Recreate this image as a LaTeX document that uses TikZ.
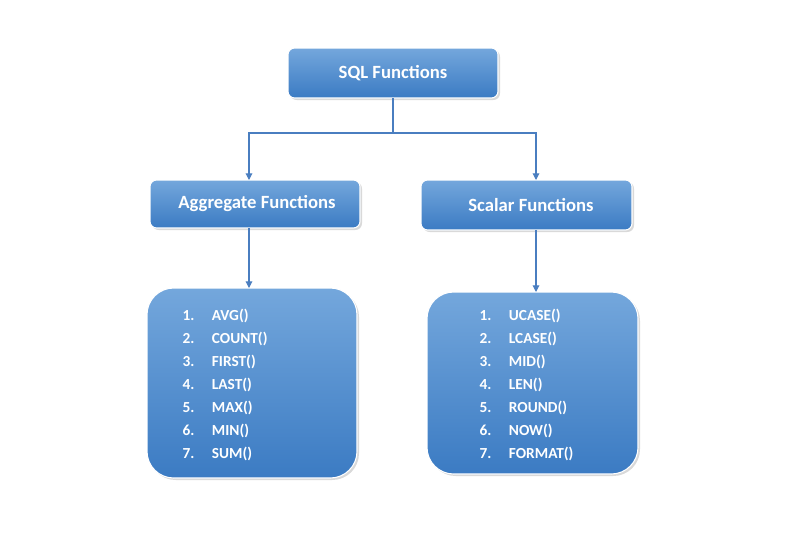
\documentclass[tikz,border=0pt]{standalone}
\usepackage{fontspec}
\setmainfont{Carlito}
\usetikzlibrary{arrows.meta,shadows}
\definecolor{btop}{HTML}{74A7DC}
\definecolor{bbot}{HTML}{3B7BC3}
\definecolor{lne}{HTML}{4A7EC0}
\tikzset{
  x=0.75pt,y=-0.75pt,
  box/.style={rounded corners=5pt,top color=btop,bottom color=bbot,draw=white,line width=0.8pt,
    drop shadow={shadow xshift=1.5pt,shadow yshift=-1.5pt,opacity=0.3}},
  bigbox/.style={box,rounded corners=20pt},
  ttl/.style={text=white,font=\bfseries\fontsize{14}{16}\selectfont},
  lst/.style={text=white,font=\bfseries\fontsize{11.5}{17.3}\selectfont,anchor=west,align=left},
  conn/.style={lne,line width=0.8pt},
  arr/.style={conn,-{Triangle[length=5pt,width=5pt]}}
}
\begin{document}
\begin{tikzpicture}
\useasboundingbox (0,0) rectangle (800,547);
\path[box] (288,48) rectangle (498,98);
\node[ttl] (sql) at (393,73) {SQL Functions};
\path[box] (150,180) rectangle (360,228);
\node[ttl] (agg) at (257,204) {Aggregate Functions};
\path[box] (421,180) rectangle (632,230);
\node[ttl] (sca) at (531,205) {Scalar Functions};
\path[bigbox] (147,288) rectangle (357,478);
\path[bigbox] (427,292) rectangle (638,474);
\node[lst] (l1) at (178,385) {\begin{tabular}{@{}l@{\hspace{13pt}}l@{}}1.&AVG()\\2.&COUNT()\\3.&FIRST()\\4.&LAST()\\5.&MAX()\\6.&MIN()\\7.&SUM()\end{tabular}};
\node[lst] (l2) at (475,385) {\begin{tabular}{@{}l@{\hspace{13pt}}l@{}}1.&UCASE()\\2.&LCASE()\\3.&MID()\\4.&LEN()\\5.&ROUND()\\6.&NOW()\\7.&FORMAT()\end{tabular}};
\coordinate (sb) at (393,98);
\coordinate (j) at (393,133);
\coordinate (ja) at (249,133);
\coordinate (js) at (536,133);
\coordinate (at) at (249,180);
\coordinate (st) at (536,180);
\draw[conn] (sb) -- (j);
\draw[arr] (j) -- (ja) -- (at);
\draw[arr] (j) -- (js) -- (st);
\coordinate (ab) at (249,228);
\coordinate (abl) at (249,288);
\coordinate (sbb) at (536,230);
\coordinate (sbl) at (536,292);
\draw[arr] (ab) -- (abl);
\draw[arr] (sbb) -- (sbl);
\end{tikzpicture}
\end{document}
